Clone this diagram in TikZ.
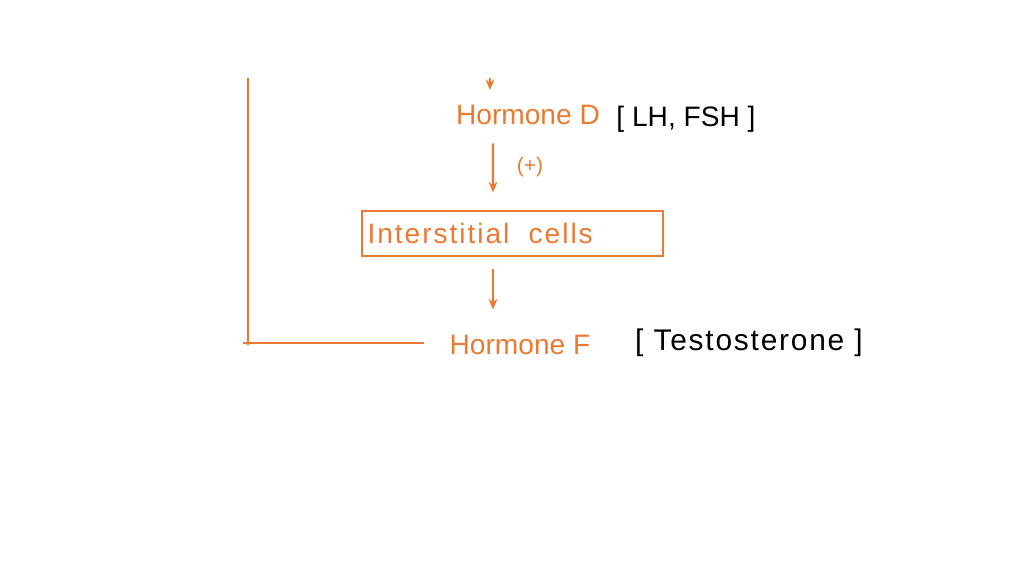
\documentclass[tikz,border=0pt]{standalone}
\usepackage{fontspec}
\setmainfont{Liberation Sans}
\usetikzlibrary{arrows.meta}
\definecolor{pen}{RGB}{234,122,50}
\tikzset{
	hand/.style={text=pen,font=\fontsize{16}{18}\selectfont,inner sep=1pt},
	bracket/.style={text=black,font=\fontsize{16}{18}\selectfont,inner sep=1pt},
	flow/.style={draw=pen,line width=1.2pt,-{Stealth[length=6pt,width=5pt]}}
}
\begin{document}
\begin{tikzpicture}[line width=1.2pt]
			\useasboundingbox (0,0) rectangle (20.48,11.52);
			\node[hand] (hD) at (10.56,9.22) {Hormone D};
			\node[bracket] (lh) at (13.72,9.14) {[ LH, FSH ]};
			\node[draw=pen,text=pen,font=\fontsize{16}{18}\selectfont\addfontfeature{LetterSpace=7},minimum width=6.02cm,minimum height=0.9cm,text width=5.8cm,align=left] (cells) at (10.25,6.85) {Interstitial\hspace{0.35em} cells};
			\node[hand] (hF) at (10.4,4.62) {Hormone F};
			\node[bracket,font=\fontsize{17}{19}\selectfont\addfontfeature{LetterSpace=6}] (tes) at (14.98,4.66) {[ Testosterone ]};
			\node[text=pen,font=\fontsize{12}{14}\selectfont] (plus) at (10.6,8.18) {(+)};
			\coordinate (in) at (9.8,9.96);
			\coordinate (ltop) at (4.96,9.96);
			\coordinate (corner) at (4.96,4.66);
			\draw[flow] (in) -- (in |- {0,9.72});
			\draw[flow,shorten <=9pt,shorten >=10pt] ([xshift=-0.7cm]hD.south) -- ([xshift=-0.39cm]cells.north);
			\draw[flow,shorten <=7pt,shorten >=13pt] ([xshift=-0.39cm]cells.south) -- ([xshift=-0.54cm]hF.north);
			\draw[pen] (ltop) -- ([yshift=-0.04cm]corner);
			\draw[pen] ([xshift=-0.1cm]corner) -- ([xshift=-0.45cm]hF.west |- corner);
			\end{tikzpicture}
\end{document}
